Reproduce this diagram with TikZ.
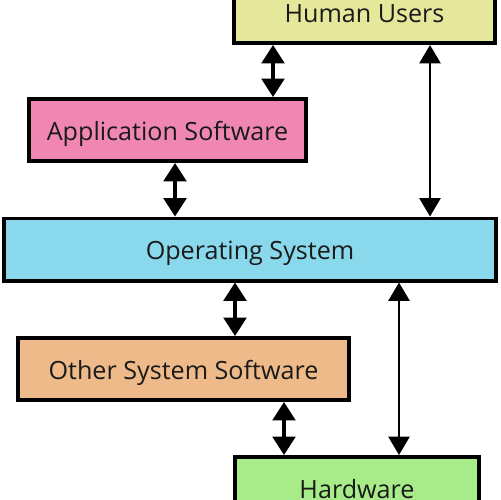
\documentclass[tikz,border=0pt]{standalone}
\usepackage{fontspec}
\setmainfont{Open Sans}
\usetikzlibrary{arrows.meta}
\definecolor{cHU}{HTML}{E5E89B}
\definecolor{cApp}{HTML}{F087B3}
\definecolor{cOS}{HTML}{8AD8EC}
\definecolor{cOther}{HTML}{EFBA89}
\definecolor{cHW}{HTML}{A7EC88}
\definecolor{cTxt}{HTML}{1A1A1A}
\begin{document}
\begin{tikzpicture}[x=0.02cm,y=-0.02cm,
  layer/.style={draw=black,line width=2pt,inner sep=0pt,minimum height=66*0.02cm-2pt,
    text height=13pt,text depth=1.6pt,
    text=cTxt,font=\fontsize{14.3}{16}\selectfont},
  dbl/.style={line width=1.8pt,{Triangle[width=13pt,length=10.5pt]}-{Triangle[width=13pt,length=10.5pt]}},
  dbllong/.style={line width=1.5pt,{Triangle[width=12pt,length=10.5pt]}-{Triangle[width=12pt,length=10.5pt]}}]
\useasboundingbox (0,0) rectangle (500,500);
\clip (0,0) rectangle (500,500);
\node[layer,fill=cHU,minimum width=265*0.02cm-2pt] (hu) at (364.5,12) {Human Users};
\node[layer,fill=cApp,minimum width=281*0.02cm-2pt] (app) at (167.5,130) {Application Software};
\node[layer,fill=cOS,minimum width=496*0.02cm-2pt] (os) at (250,249.5) {Operating System};
\node[layer,fill=cOther,minimum width=335*0.02cm-2pt] (oth) at (183.5,369) {Other System Software};
\node[layer,fill=cHW,minimum width=248*0.02cm-2pt] (hw) at (357,488) {Hardware};
\coordinate (a1) at (273,0);
\coordinate (a2) at (430,0);
\coordinate (a3) at (175,0);
\coordinate (a4) at (235,0);
\coordinate (a5) at (399,0);
\coordinate (a6) at (284,0);
\draw[dbl] (hu.south -| a1) -- (app.north -| a1);
\draw[dbllong] (hu.south -| a2) -- (os.north -| a2);
\draw[dbl] (app.south -| a3) -- (os.north -| a3);
\draw[dbl] (os.south -| a4) -- (oth.north -| a4);
\draw[dbllong] (os.south -| a5) -- (hw.north -| a5);
\draw[dbl] (oth.south -| a6) -- (hw.north -| a6);
\end{tikzpicture}
\end{document}
